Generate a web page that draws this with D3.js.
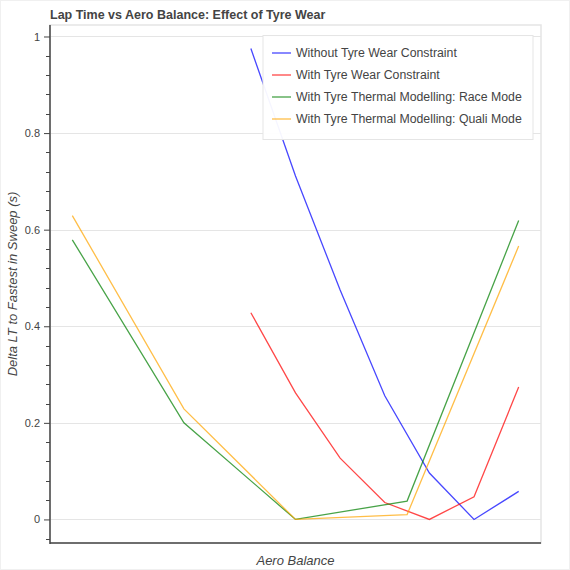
<!DOCTYPE html>
<html>
<head>
<meta charset="utf-8">
<script src="https://cdn.jsdelivr.net/npm/d3@7"></script>
<style>
  html, body { margin: 0; padding: 0; background: #fff; }
  svg { display: block; font-family: "Liberation Sans", Arial, Helvetica, sans-serif; }
</style>
</head>
<body>
<div id="chart"></div>
<script>
// Aero balance sweep positions (arbitrary units, axis ticks hidden)
const xFine = [44, 45, 46, 47, 48, 49, 50];
const xWide = [40, 42.5, 45, 47.5, 50];

// Delta lap time to fastest in sweep (s)
const withoutWear = [0.975, 0.711, 0.475, 0.256, 0.096, 0, 0.058];
const withWear = [0.428, 0.262, 0.127, 0.035, 0, 0.047, 0.274];
const raceMode = [0.579, 0.2, 0, 0.038, 0.619];
const qualiMode = [0.629, 0.229, 0, 0.01, 0.566];

const seriesNames = [
  'Without Tyre Wear Constraint',
  'With Tyre Wear Constraint',
  'With Tyre Thermal Modelling: Race Mode',
  'With Tyre Thermal Modelling: Quali Mode',
];
const seriesColors = ['#0000ff', '#ff0000', '#008000', '#ffa500'];
const yTicks = [0, 0.2, 0.4, 0.6, 0.8, 1];

const series = [
  { name: seriesNames[0], xs: xFine, ys: withoutWear, color: seriesColors[0] },
  { name: seriesNames[1], xs: xFine, ys: withWear, color: seriesColors[1] },
  { name: seriesNames[2], xs: xWide, ys: raceMode, color: seriesColors[2] },
  { name: seriesNames[3], xs: xWide, ys: qualiMode, color: seriesColors[3] },
];

const width = 570;
const height = 570;
const margin = { top: 25, right: 29, bottom: 27, left: 50 };
const innerW = width - margin.left - margin.right;
const innerH = height - margin.top - margin.bottom;

// Bokeh-like padded data ranges
const x = d3.scaleLinear().domain([39.5, 50.5]).range([0, innerW]);
const y = d3.scaleLinear().domain([-0.0488, 1.0238]).range([innerH, 0]);

const svg = d3.select('#chart').append('svg')
  .attr('width', width)
  .attr('height', height);

// faint outer border
svg.append('rect')
  .attr('x', 0.5).attr('y', 0.5)
  .attr('width', width - 1).attr('height', height - 1)
  .attr('fill', 'none')
  .attr('stroke', '#f0f0f0');

const g = svg.append('g')
  .attr('transform', `translate(${margin.left},${margin.top})`);

// grid
g.append('g')
  .selectAll('line')
  .data(yTicks)
  .join('line')
  .attr('x1', 0)
  .attr('x2', innerW)
  .attr('y1', (d) => Math.round(y(d)) + 0.5)
  .attr('y2', (d) => Math.round(y(d)) + 0.5)
  .attr('stroke', '#e5e5e5')
  .attr('stroke-width', 1);

// plot outline
g.append('rect')
  .attr('x', 0).attr('y', 0)
  .attr('width', innerW).attr('height', innerH)
  .attr('fill', 'none')
  .attr('stroke', '#e5e5e5')
  .attr('stroke-width', 1.5);

// lines
const line = d3.line()
  .x((d) => x(d[0]))
  .y((d) => y(d[1]));

g.append('g')
  .selectAll('path')
  .data(series)
  .join('path')
  .attr('d', (s) => line(s.xs.map((v, i) => [v, s.ys[i]])))
  .attr('fill', 'none')
  .attr('stroke', (s) => s.color)
  .attr('stroke-opacity', 0.72)
  .attr('stroke-width', 1.3);

// y axis
const yAxis = d3.axisLeft(y)
  .tickValues(yTicks)
  .tickFormat((d) => d3.format('~g')(d))
  .tickSizeOuter(0)
  .tickSize(6)
  .tickPadding(4);

const yAxisG = g.append('g').call(yAxis);
yAxisG.select('.domain').remove();
yAxisG.selectAll('.tick line').attr('stroke', '#444');
yAxisG.selectAll('.tick text')
  .attr('fill', '#444')
  .style('font-size', '11px');

const minorTicks = d3.range(-0.04, 1.0201, 0.04)
  .filter((v) => Math.abs(v / 0.2 - Math.round(v / 0.2)) > 1e-6);
g.append('g')
  .selectAll('line')
  .data(minorTicks)
  .join('line')
  .attr('x1', -4)
  .attr('x2', 0)
  .attr('y1', (d) => Math.round(y(d)) + 0.5)
  .attr('y2', (d) => Math.round(y(d)) + 0.5)
  .attr('stroke', '#444');

// axis lines
g.append('line')
  .attr('x1', 0).attr('x2', 0)
  .attr('y1', 0).attr('y2', innerH + 1)
  .attr('stroke', '#444')
  .attr('stroke-width', 1.5);
g.append('line')
  .attr('x1', 0).attr('x2', innerW)
  .attr('y1', innerH).attr('y2', innerH)
  .attr('stroke', '#444')
  .attr('stroke-width', 1.5);

// axis labels
svg.append('text')
  .attr('transform', `translate(17,${margin.top + innerH / 2}) rotate(-90)`)
  .attr('text-anchor', 'middle')
  .attr('fill', '#444')
  .style('font-size', '13px')
  .style('font-style', 'italic')
  .text('Delta LT to Fastest in Sweep (s)');

svg.append('text')
  .attr('x', margin.left + innerW / 2)
  .attr('y', 565)
  .attr('text-anchor', 'middle')
  .attr('fill', '#444')
  .style('font-size', '13px')
  .style('font-style', 'italic')
  .text('Aero Balance');

// title, aligned with the plot frame
svg.append('text')
  .attr('x', margin.left)
  .attr('y', 18.5)
  .attr('fill', '#444')
  .style('font-size', '12.5px')
  .style('font-weight', 'bold')
  .text('Lap Time vs Aero Balance: Effect of Tyre Wear');

// legend
const legend = svg.append('g')
  .attr('transform', 'translate(263,35.5)');

legend.append('rect')
  .attr('width', 270)
  .attr('height', 104)
  .attr('fill', '#fff')
  .attr('fill-opacity', 0.95)
  .attr('stroke', '#e5e5e5');

const items = legend.selectAll('.item')
  .data(series)
  .join('g')
  .attr('class', 'item')
  .attr('transform', (d, i) => `translate(0,${17.5 + i * 22})`);

items.append('line')
  .attr('x1', 9).attr('x2', 28)
  .attr('stroke', (d) => d.color)
  .attr('stroke-opacity', 0.72)
  .attr('stroke-width', 1.3);

items.append('text')
  .attr('x', 33)
  .attr('dy', '0.35em')
  .attr('fill', '#444')
  .style('font-size', '12.3px')
  .text((d) => d.name);
</script>
</body>
</html>
